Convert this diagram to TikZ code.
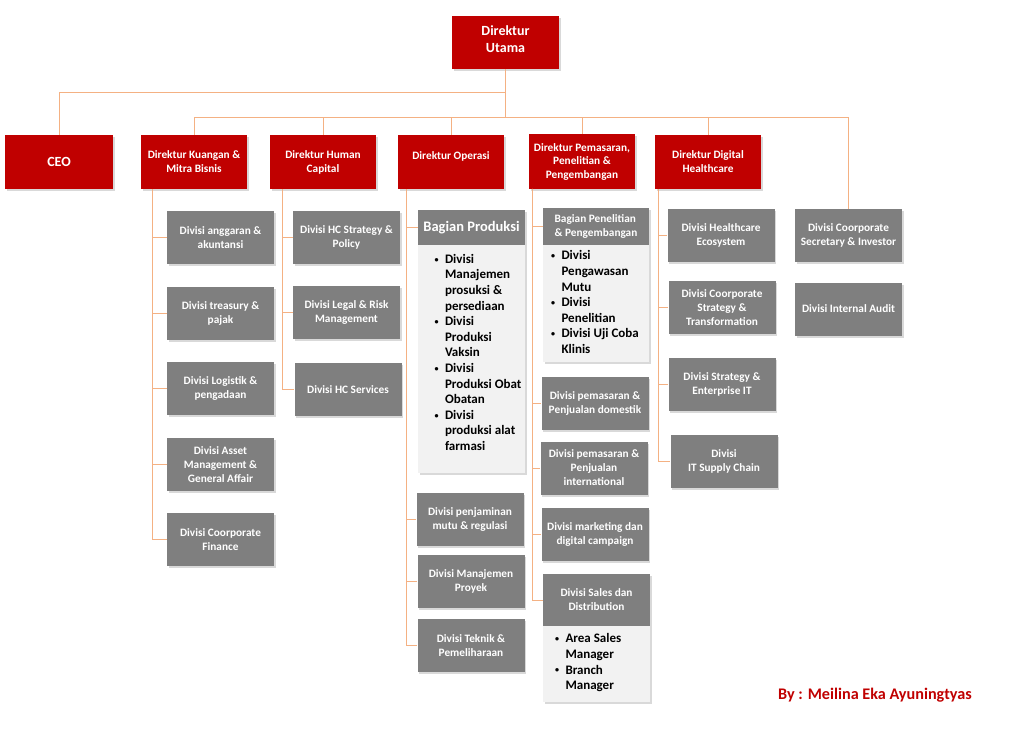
\documentclass[tikz,border=0pt]{standalone}
\usepackage{fontspec}
\usepackage{graphicx}
\setmainfont{Carlito}
\usetikzlibrary{positioning,shadows}
\definecolor{dred}{HTML}{C00000}
\definecolor{dgray}{HTML}{7F7F7F}
\definecolor{lgray}{HTML}{F2F2F2}
\definecolor{peach}{HTML}{F4B183}
\newcommand{\bul}{\raisebox{1.3pt}{\scalebox{0.62}{\textbullet}}}

\begin{document}
\begin{tikzpicture}[
    x=1pt, y=-1pt,
    every node/.style={font=\bfseries\fontsize{11.3}{14}\selectfont, align=center, inner sep=2pt},
    boxshadow/.style={drop shadow={shadow xshift=1.5pt, shadow yshift=-2pt, opacity=0.3}},
    dirbox/.style={boxshadow, fill=dred, text=white, minimum width=106, minimum height=54},
    divbox/.style={boxshadow, fill=dgray, text=white, minimum width=107, minimum height=53},
    headbox/.style={boxshadow, fill=dgray, text=white, minimum width=107},
    listbox/.style={boxshadow, fill=lgray, text=black, inner sep=0pt, anchor=north,
                    font=\bfseries\fontsize{13}{15.6}\selectfont},
    bigtxt/.style={font=\bfseries\fontsize{14}{17}\selectfont},
    conn/.style={peach, line width=1pt},
]
\useasboundingbox (0,0) rectangle (1024,738);

% ============================================================
% Direksi
% ============================================================
\node[dirbox, minimum width=107, minimum height=53, bigtxt, text depth=6pt] (utama) at (505.5,42.5) {Direktur\\Utama};
\node[dirbox, minimum width=108, bigtxt] (ceo) at (59,162) {CEO};
\node[dirbox] (keu) at (194,162) {Direktur Kuangan \&\\Mitra Bisnis};
\node[dirbox] (hc)  at (323,162) {Direktur Human\\Capital};
\node[dirbox, text depth=12pt] (ops) at (451,162) {Direktur Operasi};
\node[dirbox, font=\bfseries\fontsize{11.3}{13.5}\selectfont] (pem) at (582,161.5)
  {Direktur Pemasaran,\\Penelitian \&\\Pengembangan};
\node[dirbox] (dig) at (708,162) {Direktur Digital\\Healthcare};

% ============================================================
% Keuangan & HC
% ============================================================
\node[divbox] (k1) at (220.5,237.5) {Divisi anggaran \&\\akuntansi};
\node[divbox] (k2) at (220.5,313.5) {Divisi treasury \&\\pajak};
\node[divbox] (k3) at (220.5,388.5) {Divisi Logistik \&\\pengadaan};
\node[divbox] (k4) at (220.5,464.5) {Divisi Asset\\Management \&\\General Affair};
\node[divbox] (k5) at (220.5,539.5) {Divisi Coorporate\\Finance};

\node[divbox] (h1) at (346.5,237.5) {Divisi HC Strategy \&\\Policy};
\node[divbox] (h2) at (346.5,312) {Divisi Legal \& Risk\\Management};
\node[divbox] (h3) at (348,389.5) {Divisi HC Services};

% ============================================================
% Operasi
% ============================================================
\node[headbox, minimum height=35, font=\bfseries\fontsize{14.5}{17}\selectfont] (prod) at (471.5,227.5) {Bagian Produksi};
\node[listbox, minimum width=107, minimum height=228] (prodlist) at (prod.south) {%
  \parbox[c][228pt][t]{107pt}{\vspace*{7pt}\hspace*{16.5pt}%
  \begin{tabular}[t]{@{}l@{\hskip 6.5pt}l@{}}
  \bul & Divisi\\ & Manajemen\\ & prosuksi \&\\ & persediaan\\
  \bul & Divisi\\ & Produksi\\ & Vaksin\\
  \bul & Divisi\\ & Produksi Obat\\ & Obatan\\
  \bul & Divisi\\ & produksi alat\\ & farmasi
  \end{tabular}}};
\node[divbox] (o1) at (470,519) {Divisi penjaminan\\mutu \& regulasi};
\node[divbox] (o2) at (471,581.5) {Divisi Manajemen\\Proyek};
\node[divbox] (o3) at (471,645.5) {Divisi Teknik \&\\Pemeliharaan};

% ============================================================
% Pemasaran, Penelitian & Pengembangan
% ============================================================
\node[headbox, minimum width=106, minimum height=37, align=left] (pen) at (596,226.5) {Bagian Penelitian\\\& Pengembangan};
\node[listbox, minimum width=106, minimum height=117] (penlist) at (pen.south) {%
  \parbox[c][117pt][t]{106pt}{\vspace*{3.5pt}\hspace*{8pt}%
  \begin{tabular}[t]{@{}l@{\hskip 6.5pt}l@{}}
  \bul & Divisi\\ & Pengawasan\\ & Mutu\\
  \bul & Divisi\\ & Penelitian\\
  \bul & Divisi Uji Coba\\ & Klinis
  \end{tabular}}};
\node[divbox] (p1) at (595,403.5) {Divisi pemasaran \&\\Penjualan domestik};
\node[divbox] (p2) at (594,468) {Divisi pemasaran \&\\Penjualan\\international};
\node[divbox] (p3) at (595,534.5) {Divisi marketing dan\\digital campaign};
\node[headbox, minimum height=52] (sales) at (596.5,600) {Divisi Sales dan\\Distribution};
\node[listbox, minimum width=107, minimum height=76] (saleslist) at (sales.south) {%
  \parbox[c][76pt][t]{107pt}{\vspace*{5.5pt}\hspace*{12pt}%
  \begin{tabular}[t]{@{}l@{\hskip 6.5pt}l@{}}
  \bul & Area Sales\\ & Manager\\
  \bul & Branch\\ & Manager
  \end{tabular}}};

% ============================================================
% Digital Healthcare + sekretariat
% ============================================================
\node[divbox] (d1) at (721,235.5) {Divisi Healthcare\\Ecosystem};
\node[divbox] (d2) at (722,307.5) {Divisi Coorporate\\Strategy \&\\Transformation};
\node[divbox] (d3) at (722,384.5) {Divisi Strategy \&\\Enterprise IT};
\node[divbox] (d4) at (724,461.5) {Divisi\\IT Supply Chain};

\node[divbox] (s1) at (848.5,235.5) {Divisi Coorporate\\Secretary \& Investor};
\node[divbox] (s2) at (848.5,309) {Divisi Internal Audit};

\node[text=dred, inner sep=0pt, anchor=west, font=\bfseries\fontsize{16.2}{19}\selectfont] (by) at (778,695) {By : Meilina Eka Ayuningtyas};

% ============================================================
% Connectors
% ============================================================
\coordinate (bus1) at (0,93);
\coordinate (bus2) at (0,117.5);
\draw[conn] (utama.south) -- (utama.south |- bus2);
\draw[conn] (utama.south |- bus1) -| (ceo.north);
\foreach \d in {keu,hc,ops,pem,dig,s1}
  \draw[conn] (utama.south |- bus2) -| (\d.north);

\foreach \c in {k1,k2,k3,k4,k5}
  \draw[conn] ([xshift=12]keu.south west) |- (\c.west);
\foreach \c in {h1,h2,h3}
  \draw[conn] ([xshift=13]hc.south west) |- (\c.west);
\foreach \c in {prod,o1,o2,o3}
  \draw[conn] ([xshift=9]ops.south west) |- (\c.west);
\foreach \c in {pen,p1,p2,p3,sales}
  \draw[conn] ([xshift=4]pem.south west) |- (\c.west);
\foreach \c in {d1,d2,d3,d4}
  \draw[conn] ([xshift=4]dig.south west) |- (\c.west);

\end{tikzpicture}
\end{document}
